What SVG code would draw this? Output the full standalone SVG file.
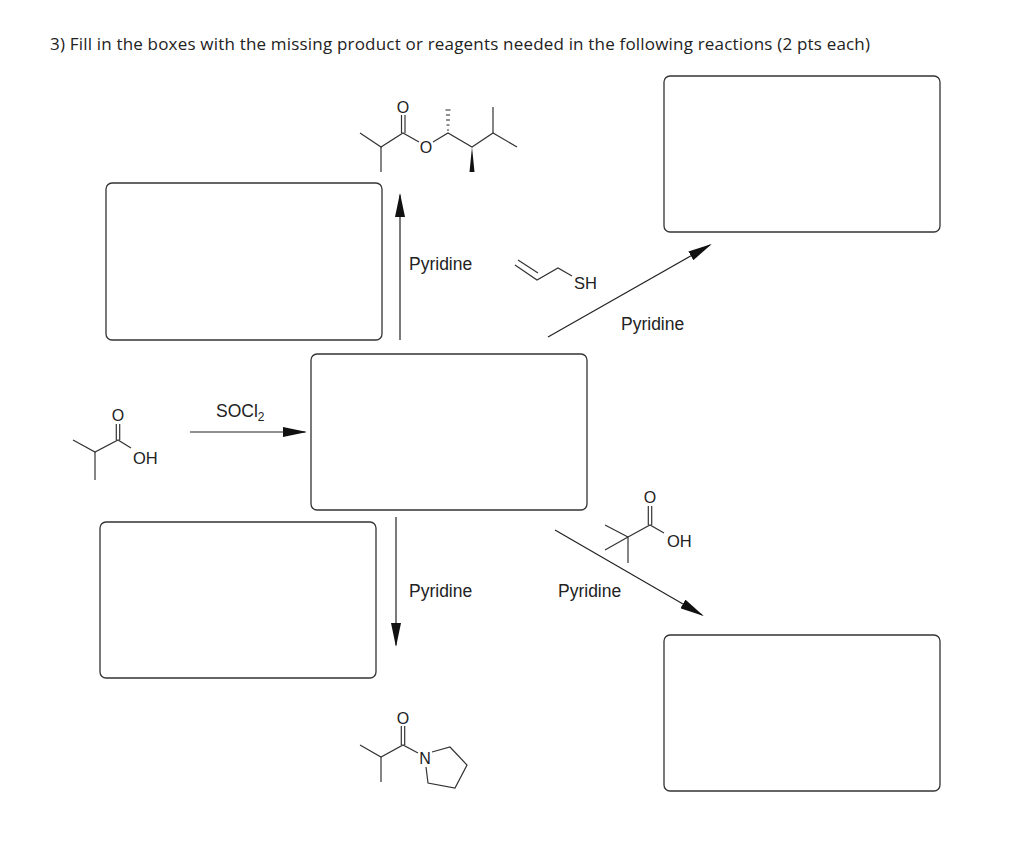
<svg xmlns="http://www.w3.org/2000/svg" width="1024" height="859" viewBox="0 0 1024 859">
<style>
.b{fill:none;stroke:#333;stroke-width:1.3}
.l{fill:none;stroke:#333;stroke-width:1.2}
.a{stroke:#222;stroke-width:1.2;fill:none}
text{font-family:"Liberation Sans",Arial,sans-serif;fill:#222}
.t{font-size:17.5px}
.s{font-size:16.5px}
.at{font-size:16px;text-anchor:middle}
</style>
<defs><marker id="h" markerWidth="24" markerHeight="10" refX="22" refY="5" orient="auto" markerUnits="userSpaceOnUse"><path d="M0,0 L24,5 L0,10 Z" fill="#111"/></marker></defs>
<rect width="1024" height="859" fill="#fff"/>
<text x="50" y="50" textLength="820" style="font-size:17px;font-family:'Open Sans','Liberation Sans',sans-serif">3) Fill in the boxes with the missing product or reagents needed in the following reactions (2 pts each)</text>
<g id="box1"><rect class="b" x="106" y="183" width="276" height="157" rx="6"/></g>
<g id="box2"><rect class="b" x="664" y="76" width="276" height="156" rx="6"/></g>
<g id="box3"><rect class="b" x="311" y="354" width="276" height="156" rx="6"/></g>
<g id="box4"><rect class="b" x="100" y="522" width="276" height="156" rx="6"/></g>
<g id="box5"><rect class="b" x="664" y="635" width="276" height="156" rx="6"/></g>
<g id="connectors">
<line class="a" x1="400" y1="340" x2="400" y2="195" marker-end="url(#h)"/>
<line class="a" x1="548" y1="337" x2="710" y2="245" marker-end="url(#h)"/>
<line class="a" x1="190" y1="432" x2="305" y2="432" marker-end="url(#h)"/>
<line class="a" x1="396" y1="517" x2="396" y2="645" marker-end="url(#h)"/>
<line class="a" x1="555" y1="530" x2="702" y2="615" marker-end="url(#h)"/>
</g>
<g id="labels">
<text class="t" x="409" y="270">Pyridine</text>
<text class="t" x="621" y="330">Pyridine</text>
<text class="t" x="216" y="417">SOCl<tspan font-size="12" dy="4">2</tspan></text>
<text class="t" x="409" y="597">Pyridine</text>
<text class="t" x="558" y="597">Pyridine</text>
</g>
<g id="ester">
<polyline class="l" points="360,133 381,147 403,133 419,142"/>
<line class="l" x1="381" y1="147" x2="381" y2="172"/>
<line class="l" x1="401.5" y1="133" x2="401.5" y2="115"/><line class="l" x1="405" y1="133" x2="405" y2="115"/>
<text class="at" x="403" y="113">O</text><text class="at" x="426" y="153">O</text>
<polyline class="l" points="433,142 448,133 472,147 493,133 517,147"/>
<line class="l" x1="493" y1="133" x2="493" y2="107"/>
<g stroke="#222" stroke-width="1"><line x1="447" y1="130" x2="449" y2="130"/><line x1="446.5" y1="125" x2="449.5" y2="125"/><line x1="446" y1="120" x2="450" y2="120"/><line x1="446" y1="115" x2="450" y2="115"/><line x1="445.5" y1="110" x2="450.5" y2="110"/></g>
<polygon points="472,147 469.5,172 474.5,172" fill="#111"/>
</g>
<g id="thiol">
<polyline class="l" points="515,265 537,280 558,268 572,276"/>
<line class="l" x1="518" y1="260" x2="538" y2="273"/>
<text class="s" x="574" y="289">SH</text>
</g>
<g id="acid">
<polyline class="l" points="73,440 95,452 118,440 131,448"/>
<line class="l" x1="95" y1="452" x2="95" y2="480"/>
<line class="l" x1="116.3" y1="440" x2="116.3" y2="424"/><line class="l" x1="119.7" y1="440" x2="119.7" y2="424"/>
<text class="at" x="118" y="421">O</text><text class="s" x="133" y="464">OH</text>
</g>
<g id="pivalic">
<line class="l" x1="628" y1="537" x2="605" y2="525"/><line class="l" x1="628" y1="537" x2="605" y2="550"/><line class="l" x1="628" y1="537" x2="628" y2="563"/>
<polyline class="l" points="628,537 650,525 664,533"/>
<line class="l" x1="648.3" y1="525" x2="648.3" y2="506"/><line class="l" x1="651.7" y1="525" x2="651.7" y2="506"/>
<text class="at" x="650" y="503">O</text><text class="s" x="667" y="547">OH</text>
</g>
<g id="amide">
<polyline class="l" points="360,745 381,757 403,745 418,753"/>
<line class="l" x1="381" y1="757" x2="381" y2="782"/>
<line class="l" x1="401.3" y1="745" x2="401.3" y2="726"/><line class="l" x1="404.7" y1="745" x2="404.7" y2="726"/>
<text class="at" x="403" y="724">O</text><text class="at" x="425" y="764">N</text>
<polyline class="l" points="432,752 450,747 467,765 455,788 428,783 426,767"/>
</g>
</svg>
